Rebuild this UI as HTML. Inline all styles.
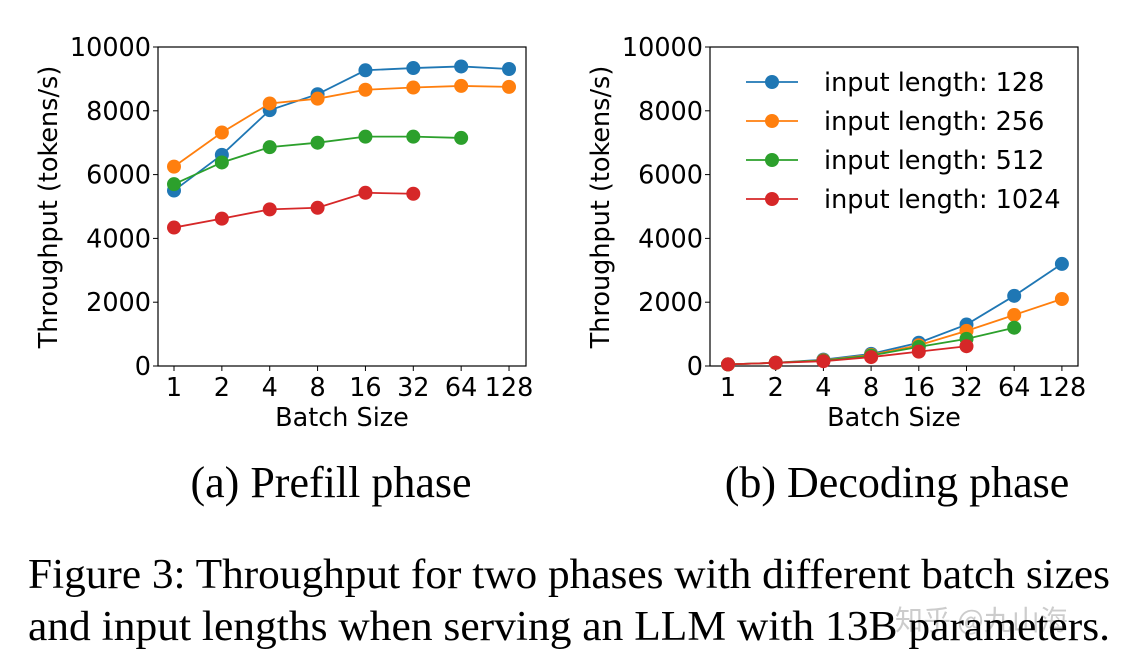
<!DOCTYPE html>
<html><head><meta charset="utf-8"><style>
body{margin:0;background:#fff;width:1134px;height:664px;overflow:hidden}
svg text{font-family:"DejaVu Sans","Liberation Sans",sans-serif;fill:#000}
.cap{font-family:"Liberation Serif",serif}
</style></head><body>
<svg width="1134" height="664" xmlns="http://www.w3.org/2000/svg" id="s"></svg>
<script>
const s=document.getElementById('s');let h='';
const C={b:'#1f77b4',o:'#ff7f0e',g:'#2ca02c',r:'#d62728'};
function plot(L,R,x0,dx,data,legend){
 const T=47,B=366,Y=v=>B-v*0.0319;
 h+=`<rect x="${L}" y="${T}" width="${R-L}" height="${B-T}" fill="none" stroke="#000" stroke-width="1.2"/>`;
 for(let i=0;i<=5;i++){const y=Y(i*2000);h+=`<line x1="${L-5}" x2="${L}" y1="${y}" y2="${y}" stroke="#000"/><text x="${L-7}" y="${y+9}" font-size="25.5" text-anchor="end">${i*2000}</text>`;}
 [1,2,4,8,16,32,64,128].forEach((t,i)=>{const x=x0+i*dx;h+=`<line x1="${x}" x2="${x}" y1="${B}" y2="${B+5}" stroke="#000"/><text x="${x}" y="${B+30}" font-size="25.5" text-anchor="middle">${t}</text>`;});
 h+=`<text x="${(L+R)/2}" y="426" font-size="25.5" text-anchor="middle">Batch Size</text>`;
 h+=`<text transform="translate(${L-101},207) rotate(-90)" font-size="25.5" text-anchor="middle">Throughput (tokens/s)</text>`;
 for(const k in data){const p=data[k].map((v,i)=>[x0+i*dx,Y(v)]);
  h+=`<polyline fill="none" stroke="${C[k]}" stroke-width="1.8" points="${p.map(a=>a.join(',')).join(' ')}"/>`;
  p.forEach(a=>h+=`<circle cx="${a[0]}" cy="${a[1]}" r="7" fill="${C[k]}"/>`);}
 if(legend){['b','o','g','r'].forEach((k,i)=>{const y=82+i*39;const n=[128,256,512,1024][i];
  h+=`<line x1="746" x2="798" y1="${y}" y2="${y}" stroke="${C[k]}" stroke-width="1.8"/><circle cx="772" cy="${y}" r="7" fill="${C[k]}"/><text x="824" y="${y+9}" font-size="25.5">input length: ${n}</text>`;});}
}
plot(158,526,174,47.86,{b:[5500,6620,8020,8520,9270,9340,9390,9310],o:[6250,7320,8230,8380,8660,8730,8780,8750],g:[5700,6380,6860,7000,7190,7190,7150],r:[4340,4620,4910,4960,5430,5400]},false);
plot(710,1078,728,47.7,{b:[50,100,200,380,730,1300,2200,3200],o:[50,100,180,350,650,1100,1600,2100],g:[50,100,170,330,600,850,1200],r:[50,100,150,280,450,620]},true);
h+=`<text class="cap" x="331" y="497" font-size="44" text-anchor="middle">(a) Prefill phase</text>`;
h+=`<text class="cap" x="897" y="497" font-size="44" text-anchor="middle">(b) Decoding phase</text>`;
h+=`<text x="895" y="630" font-size="28" style="fill:#ccc;font-family:'Noto Sans CJK SC',sans-serif">知乎 @九山海</text>`;
h+=`<text class="cap" x="28" y="588" font-size="42" textLength="1082" lengthAdjust="spacingAndGlyphs">Figure 3: Throughput for two phases with different batch sizes</text>`;
h+=`<text class="cap" x="28" y="640" font-size="42" textLength="1082" lengthAdjust="spacingAndGlyphs">and input lengths when serving an LLM with 13B parameters.</text>`;
s.innerHTML=h;
</script>
</body></html>
